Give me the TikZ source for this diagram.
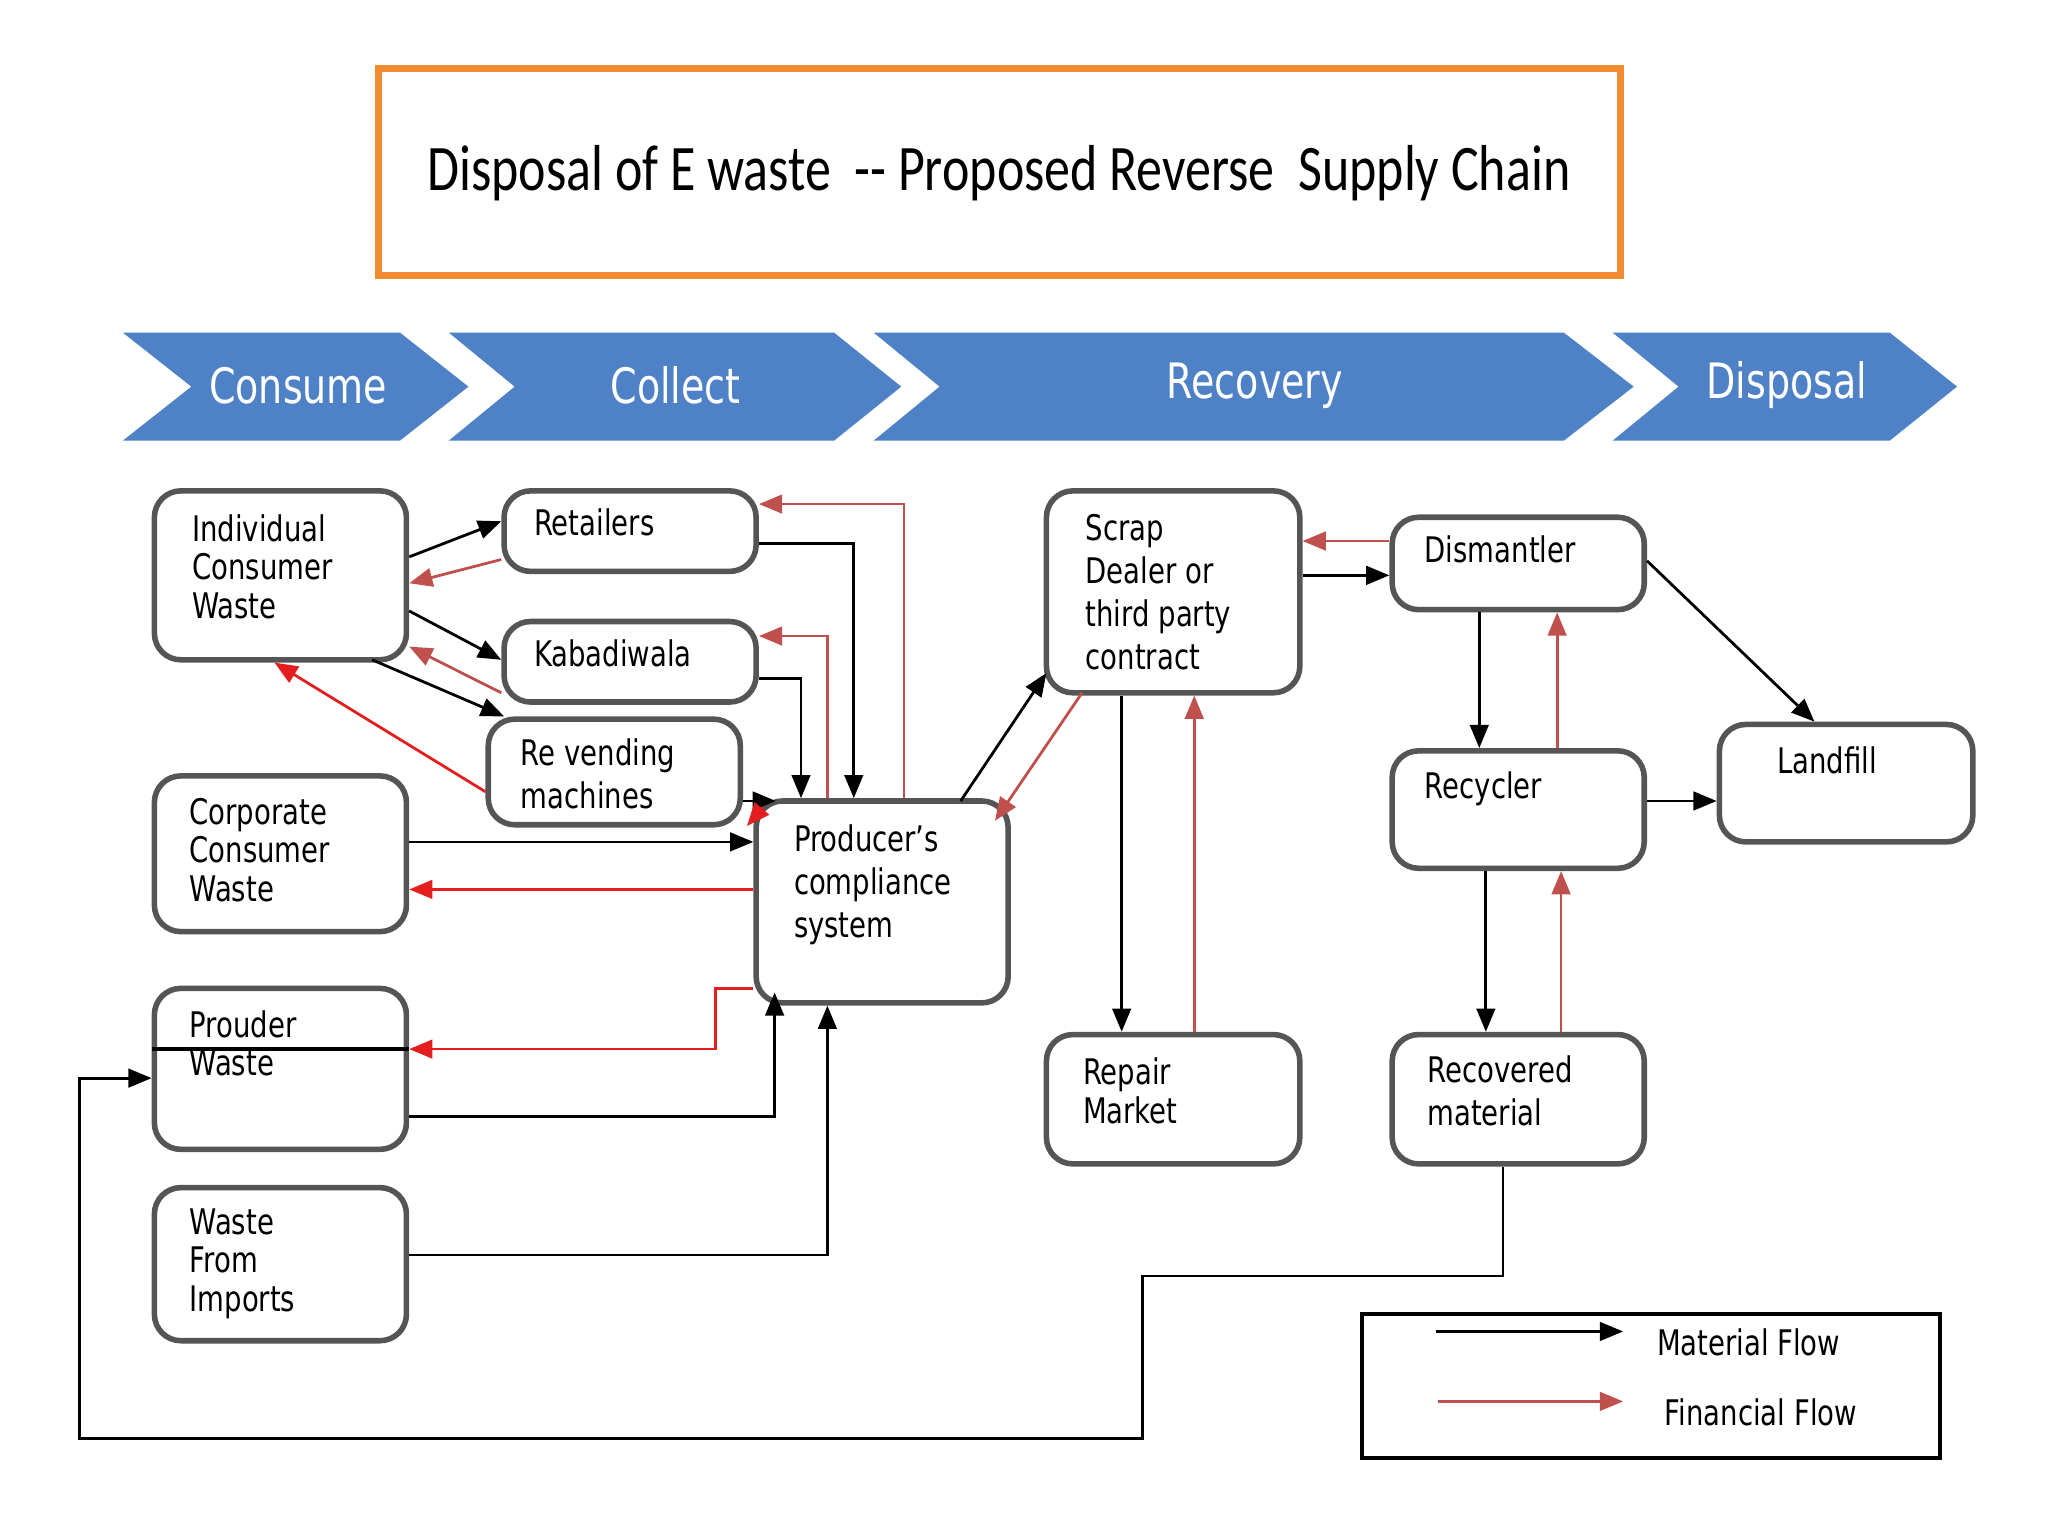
\documentclass[tikz,border=0pt]{standalone}
\usepackage{fontspec}
\setmainfont{DejaVu Sans}[FakeStretch=0.78]
\newfontfamily\titlefont{Carlito}[FakeStretch=0.8]
\usetikzlibrary{fit,arrows.meta}
\definecolor{chev}{HTML}{4F81C6}
\definecolor{lred}{HTML}{C0504D}
\definecolor{bred}{HTML}{E41E1E}
\definecolor{bordr}{HTML}{555555}
\begin{document}
\begin{tikzpicture}[x=0.01cm,y=-0.01cm,
  box/.style={draw=bordr,line width=1.2pt,rounded corners=0.2cm,inner sep=0pt},
  txt/.style={anchor=north west,align=left,inner sep=0pt,font=\fontsize{7.6}{8.3}\selectfont},
  chv/.style={fill=chev,draw=none},
  chl/.style={text=white,font=\fontsize{10.5}{12}\selectfont},
  mf/.style={draw=black,line width=0.6pt,-{Triangle[length=5pt,width=4pt]}},
  ff/.style={draw=lred,line width=0.6pt,-{Triangle[length=5pt,width=4pt]}},
  bf/.style={draw=bred,line width=0.6pt,-{Triangle[length=5pt,width=4pt]}}]
\useasboundingbox (0,0) rectangle (1552,1164);
% title
\node[draw={rgb,255:red,240;green,140;blue,50},line width=1.5pt,fit={(287,52) (1228,209)},inner sep=0pt] (title) {};
\node[font=\titlefont\fontsize{14}{16}\selectfont] (tt) at (757,131) {Disposal of E waste \ -- Proposed Reverse \ Supply Chain};
% chevrons
\fill[chv] (93,252) -- (303,252) -- (355,293) -- (303,334) -- (93,334) -- (145,293) -- cycle;
\fill[chv] (340,252) -- (632,252) -- (683,293) -- (632,334) -- (340,334) -- (390,293) -- cycle;
\fill[chv] (662,252) -- (1185,252) -- (1238,293) -- (1185,334) -- (662,334) -- (712,293) -- cycle;
\fill[chv] (1222,252) -- (1432,252) -- (1483,293) -- (1432,334) -- (1222,334) -- (1272,293) -- cycle;
\node[chl] (c1) at (226,292) {Consume};
\node[chl] (c2) at (512,292) {Collect};
\node[chl] (c3) at (951,292) {Recovery};
\node[chl] (c4) at (1354,292) {Disposal};
% boxes
\node[box,fit={(117,372) (308,500)}] (icw) {};
\node[box,fit={(382,372) (573,433)}] (ret) {};
\node[box,fit={(382,471) (573,532)}] (kab) {};
\node[box,fit={(370,545) (561,625)}] (rev) {};
\node[box,fit={(117,588) (308,706)}] (ccw) {};
\node[box,fit={(573,607) (764,760)}] (pcs) {};
\node[box,fit={(117,749) (308,871)}] (prw) {};
\node[box,fit={(117,900) (308,1016)}] (wfi) {};
\node[box,fit={(793,372) (985,525)}] (scr) {};
\node[box,fit={(793,784) (985,882)}] (rep) {};
\node[box,fit={(1055,392) (1246,462)}] (dis) {};
\node[box,fit={(1055,569) (1246,658)}] (rec) {};
\node[box,fit={(1303,549) (1495,638)}] (lan) {};
\node[box,fit={(1055,784) (1246,882)}] (rcm) {};
\node[draw=black,line width=0.8pt,fit={(1032,996) (1470,1105)},inner sep=0pt] (leg) {};
% texts
\node[txt] (t1) at (145,389) {Individual\\Consumer\\Waste};
\node[txt] (t2) at (404,385) {Retailers};
\node[txt] (t3) at (404,484) {Kabadiwala};
\node[txt] (t4) at (394,559) {Re vending\\[0.9pt]machines};
\node[txt] (t5) at (143,604) {Corporate\\Consumer\\Waste};
\node[txt] (t6) at (601,624) {Producer’s\\[1pt]compliance\\[1pt]system};
\node[txt] (t7) at (143,765) {Prouder\\Waste};
\node[txt] (t8) at (143,915) {Waste\\From\\Imports};
\node[txt] (t9) at (822,389) {Scrap\\[1pt]Dealer or\\[1pt]third party\\[1pt]contract};
\node[txt] (t10) at (820,801) {Repair\\Market};
\node[txt] (t11) at (1079,405) {Dismantler};
\node[txt] (t12) at (1079,584) {Recycler};
\node[txt] (t13) at (1346,565) {Landfill};
\node[txt] (t14) at (1081,799) {Recovered\\[1pt]material};
\node[txt] (t15) at (1255,1006) {Material Flow};
\node[txt] (t16) at (1261,1059) {Financial Flow};
% line across Prouder
\draw[black,line width=0.8pt] (prw.west |- 0,795) -- (prw.east |- 0,795);
% connectors
\draw[mf] (icw.east |- 0,422) -- (ret.west |- 0,395);
\draw[ff] (ret.west |- 0,424) -- (icw.east |- 0,442);
\draw[mf] (icw.east |- 0,463) -- (kab.west |- 0,500);
\draw[ff] (kab.west |- 0,525) -- (icw.east |- 0,490);
\draw[mf] (282,500) -- (rev.north west -| 382,0);
\draw[bf] (rev.west |- 0,600) -- (icw.south -| 208,0);
\draw[mf] (ret.east |- 0,412) -| (pcs.north -| 647,0);
\draw[mf] (kab.east |- 0,514) -| (pcs.north -| 607,0);
\draw[ff] (pcs.north -| 685,0) |- (ret.east |- 0,382);
\draw[ff] (pcs.north -| 627,0) |- (kab.east |- 0,482);
\draw[mf] (rev.east |- 0,607) -- (588,607);
\draw[bf] (578,612) -- (566,626);
\draw[mf] (ccw.east |- 0,638) -- (pcs.west |- 0,638);
\draw[bf] (pcs.west |- 0,674) -- (ccw.east |- 0,674);
\draw[bf] (pcs.west |- 0,749) -- (542,749) -- (542,795) -- (prw.east |- 0,795);
\draw[mf] (prw.east |- 0,846) -| (587,752);
\draw[mf] (wfi.east |- 0,951) -| (pcs.south -| 627,0);
\draw[mf] (728,607) -- (793,510);
\draw[ff] (820,525) -- (754,622);
\draw[mf] (scr.east |- 0,436) -- (dis.west |- 0,436);
\draw[ff] (dis.west |- 0,410) -- (scr.east |- 0,410);
\draw[mf] (scr.south -| 850,0) -- (rep.north -| 850,0);
\draw[ff] (rep.north -| 905,0) -- (scr.south -| 905,0);
\draw[mf] (dis.south -| 1121,0) -- (rec.north -| 1121,0);
\draw[ff] (rec.north -| 1180,0) -- (dis.south -| 1180,0);
\draw[mf] (dis.east |- 0,425) -- (lan.north -| 1375,0);
\draw[mf] (rec.east |- 0,607) -- (lan.west |- 0,607);
\draw[mf] (rec.south -| 1126,0) -- (rcm.north -| 1126,0);
\draw[ff] (rcm.north -| 1183,0) -- (rec.south -| 1183,0);
\draw[mf] (rcm.south -| 1139,0) -- (1139,967) -- (866,967) -- (866,1090) -- (60,1090) -- (60,817) -- (prw.west |- 0,817);
% legend arrows
\coordinate (l1a) at (1088,1009); \coordinate (l1b) at (1230,1009);
\coordinate (l2a) at (1090,1062); \coordinate (l2b) at (1230,1062);
\draw[mf] (l1a) -- (l1b);
\draw[ff] (l2a) -- (l2b);
\end{tikzpicture}
\end{document}
